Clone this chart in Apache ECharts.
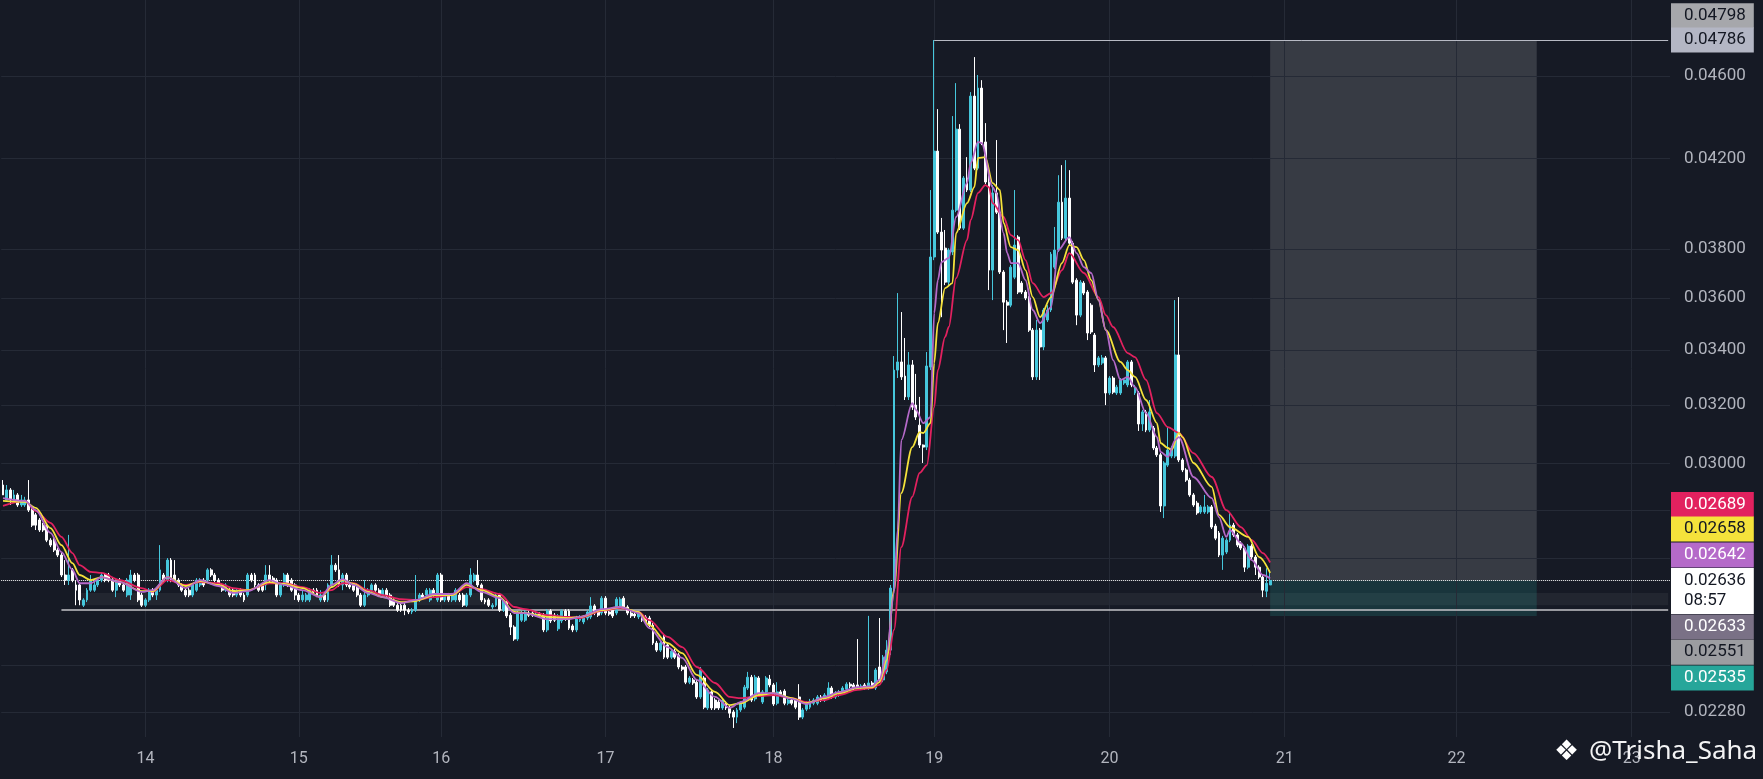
<!DOCTYPE html>
<html><head><meta charset="utf-8">
<script src="https://cdn.jsdelivr.net/npm/echarts@6/dist/echarts.min.js"></script>
<style>html,body{margin:0;padding:0;background:#161a25;}#c{width:1763px;height:779px;}</style>
</head><body><div id="c"></div>
<script>
// ---------- data ----------
const slotCount = 457;
const dayTicks = [[39,'14'],[81,'15'],[120,'16'],[165,'17'],[211,'18'],[255,'19'],[303,'20'],[351,'21'],[398,'22'],[446,'23']];
const priceTicks = [0.0228, 0.024, 0.027, 0.0285, 0.030, 0.032, 0.034, 0.036, 0.038, 0.042, 0.046];
const labeledTicks = [0.0228, 0.030, 0.032, 0.034, 0.036, 0.038, 0.042, 0.046];
// [open, close, low, high]
const candles = [
[0.02929,0.02897,0.02897,0.02945],[0.02881,0.02913,0.02881,0.02929],[0.02913,0.02881,0.02865,0.02919],[0.02881,0.02897,0.02875,0.02913],[0.02897,0.02865,0.02859,0.02903],[0.02865,0.02881,0.02859,0.02897],
[0.02865,0.02881,0.02859,0.02891],[0.02881,0.02849,0.02843,0.02945],[0.02849,0.02802,0.02796,0.02865],[0.02834,0.02802,0.02787,0.02840],[0.02818,0.02787,0.02781,0.02824],[0.02802,0.02787,0.02781,0.02809],
[0.02802,0.02756,0.02750,0.02809],[0.02756,0.02741,0.02735,0.02762],[0.02756,0.02726,0.02720,0.02762],[0.02726,0.02711,0.02705,0.02732],[0.02711,0.02652,0.02646,0.02717],[0.02652,0.02637,0.02623,0.02696],
[0.02637,0.02652,0.02623,0.02772],[0.02667,0.02637,0.02631,0.02672],[0.02623,0.02608,0.02565,0.02637],[0.02623,0.02580,0.02565,0.02628],[0.02565,0.02580,0.02560,0.02585],[0.02580,0.02608,0.02574,0.02614],
[0.02608,0.02637,0.02603,0.02652],[0.02608,0.02623,0.02603,0.02637],[0.02623,0.02637,0.02617,0.02643],[0.02637,0.02652,0.02631,0.02658],[0.02652,0.02637,0.02631,0.02658],[0.02652,0.02637,0.02631,0.02658],
[0.02637,0.02608,0.02603,0.02643],[0.02608,0.02637,0.02588,0.02643],[0.02637,0.02623,0.02617,0.02643],[0.02623,0.02608,0.02603,0.02628],[0.02594,0.02637,0.02588,0.02643],[0.02594,0.02652,0.02580,0.02667],
[0.02652,0.02637,0.02631,0.02658],[0.02652,0.02580,0.02574,0.02658],[0.02594,0.02565,0.02560,0.02600],[0.02565,0.02580,0.02560,0.02585],[0.02580,0.02608,0.02574,0.02614],[0.02608,0.02594,0.02588,0.02614],
[0.02594,0.02608,0.02580,0.02614],[0.02608,0.02667,0.02603,0.02741],[0.02652,0.02637,0.02631,0.02658],[0.02637,0.02696,0.02631,0.02702],[0.02696,0.02637,0.02631,0.02702],[0.02652,0.02637,0.02631,0.02696],
[0.02637,0.02623,0.02617,0.02643],[0.02623,0.02608,0.02603,0.02628],[0.02608,0.02594,0.02588,0.02614],[0.02608,0.02594,0.02588,0.02614],[0.02594,0.02623,0.02588,0.02628],[0.02608,0.02637,0.02603,0.02643],
[0.02623,0.02637,0.02617,0.02643],[0.02637,0.02623,0.02617,0.02643],[0.02637,0.02667,0.02631,0.02672],[0.02667,0.02652,0.02646,0.02672],[0.02652,0.02637,0.02631,0.02658],[0.02637,0.02623,0.02617,0.02643],
[0.02623,0.02608,0.02603,0.02628],[0.02608,0.02623,0.02603,0.02628],[0.02608,0.02594,0.02588,0.02614],[0.02608,0.02594,0.02588,0.02614],[0.02594,0.02608,0.02588,0.02614],[0.02608,0.02594,0.02588,0.02614],
[0.02594,0.02580,0.02574,0.02600],[0.02594,0.02652,0.02588,0.02658],[0.02652,0.02637,0.02631,0.02658],[0.02652,0.02623,0.02617,0.02658],[0.02623,0.02608,0.02603,0.02628],[0.02623,0.02608,0.02603,0.02628],
[0.02623,0.02652,0.02608,0.02681],[0.02652,0.02637,0.02631,0.02681],[0.02643,0.02631,0.02626,0.02649],[0.02637,0.02594,0.02588,0.02643],[0.02594,0.02623,0.02588,0.02628],[0.02623,0.02652,0.02617,0.02658],
[0.02652,0.02623,0.02617,0.02658],[0.02637,0.02608,0.02603,0.02643],[0.02623,0.02594,0.02580,0.02628],[0.02594,0.02580,0.02574,0.02600],[0.02580,0.02594,0.02574,0.02608],[0.02580,0.02594,0.02574,0.02600],
[0.02580,0.02608,0.02574,0.02614],[0.02608,0.02603,0.02597,0.02614],[0.02608,0.02594,0.02588,0.02614],[0.02580,0.02594,0.02574,0.02608],[0.02594,0.02580,0.02574,0.02600],[0.02580,0.02623,0.02574,0.02628],
[0.02623,0.02681,0.02617,0.02711],[0.02681,0.02667,0.02661,0.02687],[0.02667,0.02623,0.02617,0.02711],[0.02623,0.02652,0.02608,0.02658],[0.02652,0.02623,0.02617,0.02658],[0.02623,0.02617,0.02611,0.02628],
[0.02623,0.02608,0.02603,0.02628],[0.02623,0.02594,0.02588,0.02628],[0.02594,0.02565,0.02560,0.02600],[0.02565,0.02594,0.02560,0.02637],[0.02594,0.02608,0.02588,0.02614],[0.02608,0.02623,0.02603,0.02628],
[0.02623,0.02608,0.02603,0.02628],[0.02608,0.02594,0.02588,0.02614],[0.02594,0.02608,0.02588,0.02614],[0.02608,0.02594,0.02588,0.02614],[0.02594,0.02565,0.02560,0.02600],[0.02580,0.02565,0.02560,0.02585],
[0.02565,0.02551,0.02546,0.02571],[0.02565,0.02551,0.02546,0.02571],[0.02565,0.02551,0.02537,0.02571],[0.02551,0.02546,0.02540,0.02557],[0.02546,0.02551,0.02540,0.02557],[0.02551,0.02580,0.02546,0.02652],
[0.02580,0.02594,0.02574,0.02600],[0.02594,0.02588,0.02582,0.02600],[0.02594,0.02608,0.02588,0.02614],[0.02580,0.02608,0.02574,0.02614],[0.02608,0.02594,0.02588,0.02614],[0.02580,0.02652,0.02574,0.02658],
[0.02652,0.02580,0.02574,0.02658],[0.02580,0.02594,0.02574,0.02600],[0.02594,0.02580,0.02574,0.02600],[0.02580,0.02594,0.02574,0.02600],[0.02580,0.02608,0.02574,0.02614],[0.02594,0.02580,0.02574,0.02600],
[0.02594,0.02565,0.02560,0.02600],[0.02565,0.02594,0.02560,0.02600],[0.02594,0.02652,0.02588,0.02672],[0.02637,0.02652,0.02631,0.02658],[0.02652,0.02623,0.02617,0.02696],[0.02623,0.02580,0.02574,0.02628],
[0.02580,0.02574,0.02568,0.02585],[0.02580,0.02565,0.02560,0.02585],[0.02560,0.02565,0.02554,0.02571],[0.02565,0.02594,0.02560,0.02600],[0.02594,0.02551,0.02546,0.02600],
[0.02551,0.02577,0.02546,0.02582],[0.02574,0.02535,0.02529,0.02580],[0.02537,0.02504,0.02482,0.02543],[0.02504,0.02471,0.02466,0.02509],[0.02471,0.02543,0.02466,0.02549],[0.02523,0.02543,0.02518,0.02549],
[0.02523,0.02546,0.02518,0.02551],[0.02543,0.02537,0.02532,0.02549],[0.02543,0.02537,0.02532,0.02549],[0.02537,0.02540,0.02532,0.02546],[0.02540,0.02537,0.02532,0.02546],[0.02537,0.02496,0.02490,0.02543],
[0.02496,0.02549,0.02490,0.02554],[0.02549,0.02521,0.02515,0.02554],[0.02537,0.02523,0.02518,0.02543],[0.02499,0.02535,0.02493,0.02540],[0.02521,0.02549,0.02515,0.02554],[0.02549,0.02526,0.02521,0.02554],
[0.02549,0.02501,0.02496,0.02554],[0.02507,0.02496,0.02490,0.02512],[0.02496,0.02529,0.02490,0.02535],[0.02523,0.02532,0.02518,0.02537],[0.02518,0.02532,0.02512,0.02537],[0.02529,0.02546,0.02523,0.02551],
[0.02532,0.02563,0.02526,0.02588],[0.02563,0.02543,0.02537,0.02568],[0.02546,0.02537,0.02532,0.02551],[0.02543,0.02585,0.02537,0.02591],[0.02585,0.02543,0.02537,0.02591],[0.02546,0.02540,0.02535,0.02551],
[0.02551,0.02535,0.02529,0.02557],[0.02543,0.02582,0.02537,0.02588],[0.02563,0.02582,0.02557,0.02588],[0.02585,0.02560,0.02554,0.02591],[0.02560,0.02543,0.02537,0.02565],[0.02543,0.02535,0.02529,0.02549],
[0.02540,0.02535,0.02529,0.02546],[0.02532,0.02543,0.02526,0.02549],[0.02537,0.02523,0.02518,0.02543],[0.02532,0.02518,0.02512,0.02537],[0.02529,0.02509,0.02504,0.02535],[0.02509,0.02460,0.02455,0.02515],
[0.02460,0.02441,0.02436,0.02466],[0.02441,0.02460,0.02436,0.02466],[0.02477,0.02422,0.02417,0.02482],[0.02455,0.02422,0.02417,0.02460],[0.02422,0.02438,0.02417,0.02444],[0.02438,0.02422,0.02417,0.02444],
[0.02428,0.02396,0.02390,0.02433],[0.02396,0.02390,0.02385,0.02401],[0.02396,0.02356,0.02351,0.02401],[0.02356,0.02367,0.02351,0.02372],[0.02362,0.02354,0.02349,0.02367],[0.02356,0.02318,0.02313,0.02362],
[0.02318,0.02388,0.02313,0.02396],[0.02367,0.02292,0.02287,0.02372],[0.02290,0.02336,0.02285,0.02341],[0.02331,0.02290,0.02285,0.02336],[0.02310,0.02290,0.02285,0.02315],[0.02305,0.02290,0.02285,0.02310],
[0.02290,0.02310,0.02285,0.02315],[0.02302,0.02290,0.02285,0.02307],[0.02292,0.02277,0.02265,0.02297],[0.02280,0.02267,0.02240,0.02285],[0.02267,0.02285,0.02252,0.02290],[0.02285,0.02302,0.02280,0.02307],
[0.02292,0.02343,0.02287,0.02349],[0.02341,0.02369,0.02336,0.02383],[0.02369,0.02310,0.02305,0.02375],[0.02313,0.02369,0.02307,0.02375],[0.02367,0.02328,0.02323,0.02372],[0.02305,0.02331,0.02300,0.02336],
[0.02331,0.02367,0.02325,0.02372],[0.02364,0.02349,0.02343,0.02375],[0.02349,0.02300,0.02295,0.02354],[0.02302,0.02331,0.02297,0.02356],[0.02331,0.02325,0.02320,0.02336],[0.02333,0.02302,0.02297,0.02338],
[0.02302,0.02310,0.02297,0.02315],[0.02310,0.02302,0.02297,0.02315],[0.02310,0.02292,0.02287,0.02315],[0.02318,0.02267,0.02260,0.02351],[0.02267,0.02285,0.02262,0.02290],[0.02287,0.02302,0.02282,0.02307],
[0.02292,0.02307,0.02287,0.02313],[0.02302,0.02310,0.02297,0.02315],[0.02302,0.02318,0.02297,0.02323],[0.02318,0.02310,0.02305,0.02323],[0.02310,0.02323,0.02305,0.02328],[0.02318,0.02341,0.02313,0.02356],
[0.02341,0.02318,0.02313,0.02346],[0.02318,0.02328,0.02313,0.02333],[0.02323,0.02331,0.02318,0.02336],[0.02333,0.02341,0.02328,0.02346],[0.02338,0.02351,0.02333,0.02356],[0.02351,0.02346,0.02341,0.02356],
[0.02349,0.02341,0.02336,0.02354],[0.02349,0.02341,0.02336,0.02471],[0.02341,0.02346,0.02336,0.02351],[0.02349,0.02341,0.02336,0.02354],[0.02341,0.02354,0.02336,0.02535],[0.02354,0.02346,0.02341,0.02359],
[0.02341,0.02388,0.02336,0.02393],[0.02396,0.02362,0.02356,0.02529],[0.02362,0.02422,0.02356,0.02428],[0.02383,0.02441,0.02377,0.02468],[0.02441,0.02614,0.02428,0.02623],
[0.02614,0.03325,0.02608,0.03377],[0.03325,0.03355,0.03296,0.03620],[0.03355,0.03300,0.03289,0.03545],[0.03303,0.03228,0.03217,0.03445],[0.03228,0.03344,0.03217,0.03392],[0.03344,0.03192,0.03182,0.03362],
[0.03199,0.03157,0.03147,0.03311],[0.03129,0.03061,0.03051,0.03228],[0.03061,0.03054,0.03001,0.03063],[0.03054,0.03340,0.03044,0.03392],[0.03336,0.03767,0.03325,0.04056],[0.03767,0.04234,0.03754,0.04786],
[0.04234,0.03872,0.03864,0.04435],[0.03872,0.03796,0.03525,0.03933],[0.03804,0.03664,0.03652,0.03881],[0.03664,0.03796,0.03652,0.03804],[0.03788,0.03967,0.03775,0.04401],[0.03967,0.04338,0.03958,0.04564],
[0.04338,0.03889,0.03881,0.04362],[0.03889,0.04110,0.03881,0.04119],[0.04110,0.04056,0.04047,0.04206],[0.04056,0.04499,0.04047,0.04519],[0.04499,0.04155,0.04146,0.04697],[0.04155,0.04539,0.04146,0.04605],
[0.04539,0.04272,0.04262,0.04579],[0.04277,0.04092,0.04083,0.04367],[0.04092,0.03713,0.03632,0.04146],[0.03713,0.04043,0.03592,0.04078],[0.04043,0.03958,0.03950,0.04286],[0.03958,0.03705,0.03697,0.03967],
[0.03705,0.03584,0.03475,0.03713],[0.03584,0.03572,0.03426,0.03592],[0.03572,0.03725,0.03564,0.03734],[0.03684,0.03817,0.03676,0.04056],[0.03851,0.03624,0.03616,0.03859],[0.03660,0.03624,0.03616,0.03668],
[0.03624,0.03600,0.03592,0.03632],[0.03600,0.03475,0.03468,0.03608],[0.03475,0.03300,0.03289,0.03483],[0.03300,0.03475,0.03289,0.03514],[0.03475,0.03411,0.03289,0.03483],[0.03411,0.03553,0.03399,0.03561],
[0.03514,0.03553,0.03506,0.03572],[0.03553,0.03779,0.03545,0.03788],[0.03725,0.03796,0.03717,0.03894],[0.03796,0.04002,0.03788,0.04123],[0.04002,0.03846,0.03838,0.04169],[0.03846,0.04020,0.03838,0.04192],
[0.04020,0.03825,0.03817,0.04146],[0.03825,0.03664,0.03656,0.03834],[0.03672,0.03533,0.03494,0.03680],[0.03533,0.03664,0.03525,0.03672],[0.03660,0.03620,0.03612,0.03668],[0.03624,0.03464,0.03437,0.03632],
[0.03572,0.03468,0.03460,0.03580],[0.03456,0.03344,0.03318,0.03464],[0.03344,0.03370,0.03336,0.03377],[0.03351,0.03370,0.03344,0.03381],[0.03370,0.03242,0.03199,0.03377],[0.03242,0.03296,0.03235,0.03303],
[0.03296,0.03245,0.03238,0.03303],[0.03242,0.03263,0.03235,0.03271],[0.03242,0.03289,0.03235,0.03296],[0.03278,0.03289,0.03271,0.03296],[0.03271,0.03355,0.03263,0.03362],[0.03355,0.03271,0.03263,0.03362],
[0.03242,0.03263,0.03235,0.03271],[0.03242,0.03133,0.03109,0.03249],[0.03133,0.03175,0.03109,0.03182],[0.03175,0.03112,0.03105,0.03182],[0.03112,0.03175,0.03105,0.03217],[0.03119,0.03051,0.03044,0.03126],
[0.03051,0.03028,0.03021,0.03058],[0.03028,0.02862,0.02843,0.03034],[0.02862,0.03001,0.02824,0.03007],[0.02994,0.03044,0.02988,0.03122],[0.03024,0.03051,0.03017,0.03058],[0.03024,0.03381,0.03017,0.03592],
[0.03381,0.03011,0.03004,0.03604],[0.03011,0.02978,0.02971,0.03017],[0.02978,0.02945,0.02939,0.02984],[0.02945,0.02897,0.02891,0.02952],[0.02897,0.02865,0.02859,0.02903],[0.02871,0.02840,0.02834,0.02878],
[0.02843,0.02859,0.02837,0.02865],[0.02843,0.02859,0.02837,0.02897],[0.02843,0.02859,0.02837,0.02865],[0.02859,0.02796,0.02790,0.02865],[0.02799,0.02762,0.02756,0.02806],[0.02778,0.02711,0.02705,0.02784],
[0.02711,0.02762,0.02667,0.02769],[0.02720,0.02756,0.02714,0.02762],[0.02756,0.02802,0.02750,0.02840],[0.02802,0.02772,0.02766,0.02809],[0.02772,0.02741,0.02735,0.02778],[0.02747,0.02732,0.02726,0.02753],
[0.02732,0.02675,0.02661,0.02738],[0.02675,0.02738,0.02669,0.02744],[0.02738,0.02705,0.02699,0.02744],[0.02705,0.02675,0.02652,0.02711],[0.02675,0.02646,0.02640,0.02681],[0.02646,0.02608,0.02588,0.02652],
[0.02605,0.02628,0.02588,0.02672],[0.02623,0.02636,0.02623,0.02667]
];
// moving averages: [candle index, value]
const emaFast = [[0,0.02887],[6,0.02878],[9,0.02849],[13,0.02778],[16,0.02720],[19,0.02667],[21,0.02628],[24,0.02628],[27,0.02646],[32,0.02631],[38,0.02603],[41,0.02608],[45,0.02646],[50,0.02614],[54,0.02637],[59,0.02620],[63,0.02600],[67,0.02605],[73,0.02637],[77,0.02623],[82,0.02608],[87,0.02588],[90,0.02623],[93,0.02640],[96,0.02623],[100,0.02600],[104,0.02588],[109,0.02571],[113,0.02580],[118,0.02597],[123,0.02597],[127,0.02628],[131,0.02603],[136,0.02585],[140,0.02543],[143,0.02543],[149,0.02526],[155,0.02526],[158,0.02532],[164,0.02554],[169,0.02560],[174,0.02543],[177,0.02501],[182,0.02449],[186,0.02420],[190,0.02362],[195,0.02318],[199,0.02290],[202,0.02305],[207,0.02328],[211,0.02328],[216,0.02313],[220,0.02300],[225,0.02318],[229,0.02331],[234,0.02343],[238,0.02346],[240,0.02362],[242,0.02433],[244,0.02600],[245,0.02787],[246,0.03078],[249,0.03206],[250,0.03182],[252,0.03136],[254,0.03157],[255,0.03541],[256,0.03672],[257,0.03746],[259,0.03763],[261,0.03937],[264,0.04087],[265,0.04178],[267,0.04277],[268,0.04272],[271,0.04069],[272,0.04043],[274,0.03868],[275,0.03783],[276,0.03742],[278,0.03742],[280,0.03672],[282,0.03553],[284,0.03502],[287,0.03564],[289,0.03796],[292,0.03851],[294,0.03783],[296,0.03725],[298,0.03701],[300,0.03592],[302,0.03475],[304,0.03362],[306,0.03289],[308,0.03300],[310,0.03263],[313,0.03171],[316,0.03088],[317,0.03038],[319,0.03021],[321,0.03078],[322,0.03088],[326,0.02955],[331,0.02887],[333,0.02827],[335,0.02766],[336,0.02787],[339,0.02747],[342,0.02696],[345,0.02652],[347,0.02642]];
const emaMid = [[0,0.02878],[6,0.02875],[9,0.02856],[13,0.02793],[16,0.02741],[19,0.02687],[21,0.02652],[24,0.02637],[27,0.02646],[32,0.02631],[38,0.02605],[41,0.02605],[45,0.02646],[50,0.02620],[54,0.02634],[59,0.02623],[63,0.02605],[67,0.02608],[73,0.02631],[77,0.02626],[82,0.02614],[87,0.02588],[90,0.02617],[93,0.02637],[96,0.02626],[100,0.02603],[104,0.02588],[109,0.02574],[113,0.02577],[118,0.02594],[123,0.02594],[127,0.02623],[131,0.02608],[136,0.02588],[140,0.02546],[143,0.02543],[149,0.02532],[155,0.02529],[158,0.02532],[164,0.02551],[169,0.02560],[174,0.02546],[177,0.02509],[182,0.02460],[186,0.02433],[190,0.02375],[195,0.02331],[199,0.02297],[202,0.02302],[207,0.02323],[211,0.02328],[216,0.02315],[220,0.02302],[225,0.02315],[229,0.02328],[234,0.02341],[238,0.02343],[240,0.02356],[242,0.02414],[244,0.02608],[246,0.02903],[249,0.03054],[251,0.03105],[252,0.03102],[254,0.03136],[255,0.03351],[256,0.03502],[258,0.03640],[260,0.03660],[261,0.03868],[264,0.03998],[266,0.04069],[267,0.04202],[269,0.04206],[271,0.04087],[273,0.04056],[274,0.03911],[276,0.03808],[278,0.03796],[280,0.03713],[282,0.03604],[284,0.03525],[287,0.03604],[290,0.03742],[292,0.03817],[294,0.03808],[296,0.03754],[298,0.03672],[300,0.03592],[302,0.03475],[306,0.03355],[308,0.03325],[310,0.03300],[313,0.03217],[316,0.03136],[317,0.03068],[319,0.03051],[320,0.03044],[322,0.03102],[323,0.03088],[326,0.03001],[331,0.02923],[333,0.02834],[336,0.02796],[341,0.02766],[344,0.02705],[347,0.02658]];
const emaSlow = [[0,0.02862],[6,0.02878],[9,0.02846],[13,0.02809],[16,0.02766],[19,0.02717],[21,0.02681],[24,0.02661],[27,0.02658],[32,0.02637],[38,0.02614],[41,0.02603],[45,0.02637],[50,0.02623],[54,0.02631],[59,0.02628],[63,0.02614],[67,0.02608],[73,0.02628],[77,0.02628],[82,0.02617],[87,0.02600],[90,0.02608],[93,0.02628],[96,0.02628],[100,0.02608],[104,0.02594],[109,0.02582],[113,0.02580],[118,0.02588],[123,0.02594],[127,0.02617],[131,0.02611],[136,0.02597],[140,0.02560],[143,0.02554],[149,0.02537],[155,0.02532],[158,0.02529],[164,0.02549],[169,0.02557],[174,0.02546],[177,0.02523],[182,0.02477],[186,0.02449],[190,0.02396],[195,0.02354],[199,0.02318],[202,0.02315],[207,0.02320],[211,0.02323],[216,0.02315],[220,0.02305],[225,0.02310],[229,0.02323],[234,0.02336],[238,0.02341],[240,0.02349],[242,0.02388],[244,0.02496],[246,0.02735],[249,0.02891],[251,0.02968],[253,0.02994],[255,0.03192],[256,0.03325],[258,0.03449],[259,0.03487],[261,0.03680],[264,0.03838],[265,0.03924],[267,0.04043],[269,0.04078],[270,0.04069],[271,0.03998],[274,0.03937],[276,0.03859],[278,0.03838],[280,0.03754],[282,0.03660],[285,0.03604],[287,0.03620],[290,0.03713],[292,0.03783],[296,0.03701],[300,0.03604],[302,0.03533],[304,0.03487],[308,0.03388],[310,0.03373],[313,0.03289],[316,0.03171],[319,0.03122],[322,0.03102],[326,0.03034],[331,0.02955],[335,0.02849],[339,0.02796],[342,0.02756],[345,0.02717],[347,0.02689]];
const lastPrice = 0.02636;
const countdown = '08:57';
const targetLevel = 0.04786;
const targetTag = 0.04798;
const emaLast = [0.02689, 0.02658, 0.02642];
const markerLevel = 0.02633;
const supportLevel = 0.02551;
const stopLevel = 0.02535;
const zoneBand = [0.02565, 0.02600];
const anchors = { target: 255, support: 16, band: 21, posStart: 347, posEnd: 420 };
const watermark = '@Trisha_Saha';

// ---------- chart ----------
const cats = new Array(slotCount).fill('');
dayTicks.forEach(([i, t]) => { cats[i] = t; });
const FONT = 'Roboto, "Noto Sans", sans-serif';
const AXIS_COL = '#b2b5be';
const GRID_COL = '#252a36';
const CLEAR = 'rgba(0,0,0,0)';
const last = slotCount - 1;

function badge(value, bg, fg, offY) {
  return {
    yAxis: value,
    lineStyle: { color: CLEAR, width: 1 },
    label: {
      show: true, position: 'end', distance: 1,
      formatter: value.toFixed(5),
      backgroundColor: bg, color: fg, opacity: 1,
      padding: [4, 8, 4, 13], fontFamily: FONT, fontSize: 17, lineHeight: 17,
      offset: [0, offY]
    }
  };
}

const gridLines = priceTicks.map(v => ({
  yAxis: v,
  label: { show: labeledTicks.indexOf(v) >= 0, formatter: v.toFixed(5) }
})).concat(dayTicks.map(d => ({ xAxis: d[0], label: { show: false } })));

const chart = echarts.init(document.getElementById('c'), null, { renderer: 'canvas' });
chart.setOption({
  backgroundColor: '#161a25',
  animation: false,
  grid: { left: 0, right: 93, top: 0, bottom: 42, containLabel: false },
  xAxis: {
    type: 'category', data: cats, boundaryGap: true,
    axisLine: { show: false }, axisTick: { show: false },
    axisLabel: { interval: 0, color: AXIS_COL, fontSize: 16, fontFamily: FONT, margin: 14 },
    splitLine: { show: false }
  },
  yAxis: {
    type: 'log', logBase: 10, position: 'right', min: 0.022178, max: 0.050025,
    axisLine: { show: false }, axisTick: { show: false }, axisLabel: { show: false },
    splitLine: { show: false }
  },
  series: [
    {
      type: 'line', data: [], silent: true,
      markLine: {
        silent: true, symbol: ['none', 'none'], animation: false, precision: 6,
        lineStyle: { color: GRID_COL, width: 1, type: 'solid' },
        label: { show: true, position: 'end', distance: 14, color: AXIS_COL, fontSize: 17, fontFamily: FONT },
        data: gridLines
      }
    },
    {
      type: 'candlestick', data: candles, barWidth: 2.4, z: 6,
      itemStyle: { color: '#46c7dc', color0: '#ffffff', borderColor: '#46c7dc', borderColor0: '#ffffff', borderWidth: 1 },
      markArea: {
        silent: true,
        data: [
          [{ xAxis: anchors.band, yAxis: zoneBand[0], itemStyle: { color: 'rgba(255,255,255,0.055)' } }, { xAxis: last, yAxis: zoneBand[1] }],
          [{ xAxis: anchors.posStart, yAxis: lastPrice, itemStyle: { color: 'rgba(255,255,255,0.145)' } }, { xAxis: anchors.posEnd, yAxis: targetLevel }],
          [{ xAxis: anchors.posStart, yAxis: stopLevel, itemStyle: { color: 'rgba(38,166,154,0.2)' } }, { xAxis: anchors.posEnd, yAxis: lastPrice }]
        ]
      },
      markLine: {
        silent: true, symbol: ['none', 'none'], animation: false, precision: 6,
        data: [
          [{ coord: [anchors.target, targetLevel], lineStyle: { color: '#b7bac4', width: 1, type: 'solid' }, label: { show: false } }, { coord: [last, targetLevel] }],
          [{ coord: [anchors.support, supportLevel], lineStyle: { color: '#c4c5c9', width: 1.5, type: 'solid' }, label: { show: false } }, { coord: [last, supportLevel] }],
          badge(targetTag, '#a6a7ab', '#131722', -22),
          badge(targetLevel, '#b3b6c4', '#131722', 0),
          badge(emaLast[0], '#e2215f', '#ffffff', -58),
          badge(emaLast[1], '#f5e23b', '#131722', -44),
          badge(emaLast[2], '#b56ac9', '#ffffff', -23.5),
          {
            yAxis: lastPrice,
            lineStyle: { color: '#ffffff', width: 1, type: 'dotted' },
            label: {
              show: true, position: 'end', distance: 1,
              formatter: lastPrice.toFixed(5) + '\n' + countdown,
              backgroundColor: '#ffffff', color: '#131722',
              padding: [3, 8, 3, 13], fontFamily: FONT, fontSize: 17, lineHeight: 20,
              offset: [0, 10.5]
            }
          },
          badge(markerLevel, '#7a7186', '#ffffff', 45.5),
          badge(supportLevel, '#9c9da1', '#131722', 42),
          badge(stopLevel, '#26a69a', '#ffffff', 62)
        ]
      }
    },
    { type: 'line', data: emaSlow, z: 7, showSymbol: false, smooth: 0.3, smoothMonotone: 'x', silent: true, lineStyle: { color: '#e2215f', width: 1.8 } },
    { type: 'line', data: emaMid, z: 7, showSymbol: false, smooth: 0.3, smoothMonotone: 'x', silent: true, lineStyle: { color: '#f5e23b', width: 1.8 } },
    { type: 'line', data: emaFast, z: 7, showSymbol: false, smooth: 0.3, smoothMonotone: 'x', silent: true, lineStyle: { color: '#b56ac9', width: 1.8 } }
  ],
  graphic: [
    { type: 'text', left: 1554, top: 739, z: 100, style: { text: '\u2756', fill: '#ffffff', font: '28px "DejaVu Sans"' } },
    { type: 'text', left: 1589, top: 739, z: 100, style: { text: watermark, fill: 'rgba(255,255,255,0.95)', font: '26px "Noto Sans"' } }
  ]
});
</script>
</body></html>
